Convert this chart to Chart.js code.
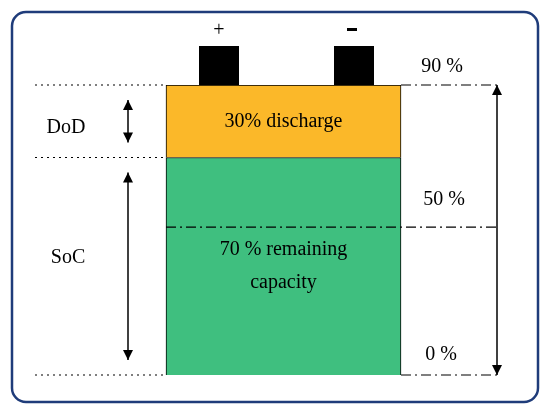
<!DOCTYPE html>
<html>
<head>
<meta charset="utf-8">
<script src="https://cdn.jsdelivr.net/npm/chart.js@4"></script>
<style>
  html, body { margin: 0; padding: 0; background: #fff; }
  #wrap { width: 550px; height: 415px; }
</style>
</head>
<body>
<div id="wrap"><canvas id="batteryChart" width="550" height="415"></canvas></div>
<script>
// Données du schéma (hauteurs)
const categories = ["Batterie"];
const socValues = [75];      // capacité restante
const dodValues = [25];      // décharge
const levelValues = [0, 51, 100];
const levelLabels = ["0 %", "50 %", "90 %"];
const barTexts = ["30% discharge", "70 % remaining", "capacity"];

const FONT = '20px "Liberation Serif", "DejaVu Serif", serif';

function arrow(ctx, x, y1, y2) {
  ctx.beginPath();
  ctx.moveTo(x, y1); ctx.lineTo(x, y2);
  ctx.stroke();
  const head = (y, dir) => {
    ctx.beginPath();
    ctx.moveTo(x, y);
    ctx.lineTo(x - 5, y - dir * 10);
    ctx.lineTo(x + 5, y - dir * 10);
    ctx.closePath();
    ctx.fill();
  };
  head(y1, -1);
  head(y2, 1);
}

const decorPlugin = {
  id: "decor",
  beforeDraw(chart) {
    const ctx = chart.ctx;
    ctx.save();
    ctx.fillStyle = "#fff";
    ctx.fillRect(0, 0, chart.width, chart.height);
    ctx.strokeStyle = "#1f3c7a";
    ctx.lineWidth = 2.5;
    ctx.beginPath();
    ctx.roundRect(12, 12, 526, 390, 14);
    ctx.stroke();
    ctx.restore();
  },
  afterDatasetsDraw(chart) {
    const ctx = chart.ctx;
    const y = chart.scales.y;
    const bar = chart.getDatasetMeta(0).data[0];
    const left = bar.x - bar.width / 2;
    const right = bar.x + bar.width / 2;
    const yTop = y.getPixelForValue(100);
    const yBot = y.getPixelForValue(0);
    const yMid = y.getPixelForValue(socValues[0]);
    const yHalf = y.getPixelForValue(levelValues[1]);
    ctx.save();
    ctx.strokeStyle = "#000";
    ctx.fillStyle = "#000";
    ctx.lineWidth = 1.2;

    // bornes
    ctx.fillRect(left + 33, yTop - 39, 40, 39);
    ctx.fillRect(left + 168, yTop - 39, 40, 39);

    // pointillés à gauche
    ctx.setLineDash([2, 4]);
    [yTop, yMid, yBot].forEach(p => {
      ctx.beginPath(); ctx.moveTo(35, p); ctx.lineTo(left, p); ctx.stroke();
    });

    // tirets-points à droite
    ctx.setLineDash([10, 4, 2, 4]);
    ctx.beginPath(); ctx.moveTo(right, yTop); ctx.lineTo(500, yTop); ctx.stroke();
    ctx.beginPath(); ctx.moveTo(right, yBot); ctx.lineTo(500, yBot); ctx.stroke();
    ctx.beginPath(); ctx.moveTo(left, yHalf); ctx.lineTo(500, yHalf); ctx.stroke();
    ctx.setLineDash([]);

    // flèches
    ctx.lineWidth = 1.5;
    arrow(ctx, 497, yTop, yBot);
    arrow(ctx, 128, yTop + 15, yMid - 15);
    arrow(ctx, 128, yMid + 15, yBot - 15);

    // textes
    ctx.font = FONT;
    ctx.textAlign = "center";
    ctx.textBaseline = "middle";
    ctx.fillText("+", left + 53, yTop - 54);
    ctx.fillRect(left + 181, yTop - 57, 10, 3);
    ctx.fillText("DoD", 66, 128);
    ctx.fillText("SoC", 68, 258);
    ctx.fillText(levelLabels[2], 442, 67);
    ctx.fillText(levelLabels[1], 444, 200);
    ctx.fillText(levelLabels[0], 441, 355);
    ctx.fillText(barTexts[0], bar.x, (yTop + yMid) / 2);
    ctx.fillText(barTexts[1], bar.x, 250);
    ctx.fillText(barTexts[2], bar.x, 283);
    ctx.restore();
  }
};

new Chart(document.getElementById("batteryChart").getContext("2d"), {
  type: "bar",
  data: {
    labels: categories,
    datasets: [
      { label: "SoC", data: socValues, backgroundColor: "#3fbf7f", borderColor: "#000", borderWidth: 1, barThickness: 235 },
      { label: "DoD", data: dodValues, backgroundColor: "#fbb829", borderColor: "#000", borderWidth: 1, barThickness: 235 }
    ]
  },
  options: {
    responsive: false,
    animation: false,
    layout: { padding: { left: 47, right: 30, top: 85, bottom: 40 } },
    plugins: { legend: { display: false }, tooltip: { enabled: false } },
    scales: {
      x: { stacked: true, display: false },
      y: { stacked: true, display: false, min: 0, max: 100 }
    }
  },
  plugins: [decorPlugin]
});
</script>
</body>
</html>
